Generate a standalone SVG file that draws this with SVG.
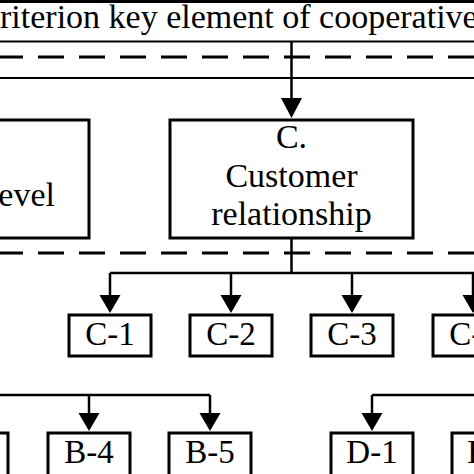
<svg xmlns="http://www.w3.org/2000/svg" width="474" height="474" viewBox="0 0 474 474">
<defs>
<style>
.t{font-family:"Liberation Serif","Times New Roman",serif;font-size:34px;fill:#000}
.s{font-size:33px}
.m{text-anchor:middle}
.box{fill:#fff;stroke:#000;stroke-width:3}
.ln{stroke:#000;stroke-width:2.5;fill:none}
.dash{stroke:#000;stroke-width:3;stroke-dasharray:26 15;stroke-dashoffset:3;fill:none}
.head{fill:#000}
</style>
</defs>
<rect width="474" height="474" fill="#fff"/>
<g id="title">
<line x1="0" y1="1.5" x2="474" y2="1.5" stroke="#000" stroke-width="3"/>
<line x1="0" y1="41.5" x2="474" y2="41.5" stroke="#000" stroke-width="2"/>
<text class="t" x="0" y="28">riterion key element of cooperative</text>
</g>
<g id="bands">
<line class="dash" x1="0" y1="57" x2="474" y2="57"/>
<line x1="0" y1="78" x2="474" y2="78" stroke="#000" stroke-width="2"/>
<line class="dash" x1="0" y1="253" x2="474" y2="253"/>
</g>
<g id="connectors">
<line class="ln" x1="291.5" y1="41.5" x2="291.5" y2="100"/>
<path class="head" d="M281,98 L302,98 L291.5,118 Z"/>
<line class="ln" x1="291.5" y1="238" x2="291.5" y2="273"/>
<line class="ln" x1="110" y1="273" x2="474" y2="273"/>
<line class="ln" x1="110" y1="273" x2="110" y2="297"/>
<line class="ln" x1="231" y1="273" x2="231" y2="297"/>
<line class="ln" x1="352" y1="273" x2="352" y2="297"/>
<line class="ln" x1="473" y1="273" x2="473" y2="297"/>
<path class="head" d="M99.5,295 L120.5,295 L110,313 Z"/>
<path class="head" d="M220.5,295 L241.5,295 L231,313 Z"/>
<path class="head" d="M341.5,295 L362.5,295 L352,313 Z"/>
<path class="head" d="M462.5,295 L483.5,295 L473,313 Z"/>
<line class="ln" x1="0" y1="395" x2="210" y2="395"/>
<line class="ln" x1="89" y1="395" x2="89" y2="416"/>
<line class="ln" x1="210" y1="395" x2="210" y2="416"/>
<path class="head" d="M78.5,413 L99.5,413 L89,431 Z"/>
<path class="head" d="M199.5,413 L220.5,413 L210,431 Z"/>
<line class="ln" x1="372" y1="395" x2="474" y2="395"/>
<line class="ln" x1="372" y1="395" x2="372" y2="416"/>
<path class="head" d="M361.5,413 L382.5,413 L372,431 Z"/>
</g>
<g id="nodeA">
<rect class="box" x="-100" y="120" width="189" height="118"/>
<text class="t" x="55" y="206" text-anchor="end">evel</text>
</g>
<g id="nodeC">
<rect class="box" x="170" y="120" width="243" height="118"/>
<text class="t m" x="291.5" y="148">C.</text>
<text class="t m" x="291.5" y="187">Customer</text>
<text class="t m" x="291.5" y="225">relationship</text>
</g>
<g id="nodeC1"><rect class="box" x="69" y="315" width="82" height="41"/><text class="t s m" x="110" y="345">C-1</text></g>
<g id="nodeC2"><rect class="box" x="190" y="315" width="82" height="41"/><text class="t s m" x="231" y="345">C-2</text></g>
<g id="nodeC3"><rect class="box" x="311" y="315" width="82" height="41"/><text class="t s m" x="352" y="345">C-3</text></g>
<g id="nodeC4"><rect class="box" x="433" y="315" width="82" height="41"/><text class="t s m" x="474" y="345">C-4</text></g>
<g id="nodeB3"><rect class="box" x="-74" y="433" width="82" height="45"/></g>
<g id="nodeB4"><rect class="box" x="48" y="433" width="82" height="45"/><text class="t s m" x="89" y="463">B-4</text></g>
<g id="nodeB5"><rect class="box" x="169" y="433" width="82" height="45"/><text class="t s m" x="210" y="463">B-5</text></g>
<g id="nodeD1"><rect class="box" x="331" y="433" width="82" height="45"/><text class="t s m" x="372" y="463">D-1</text></g>
<g id="nodeD2"><rect class="box" x="452" y="433" width="82" height="45"/><text class="t s m" x="493" y="463">D-2</text></g>
</svg>
